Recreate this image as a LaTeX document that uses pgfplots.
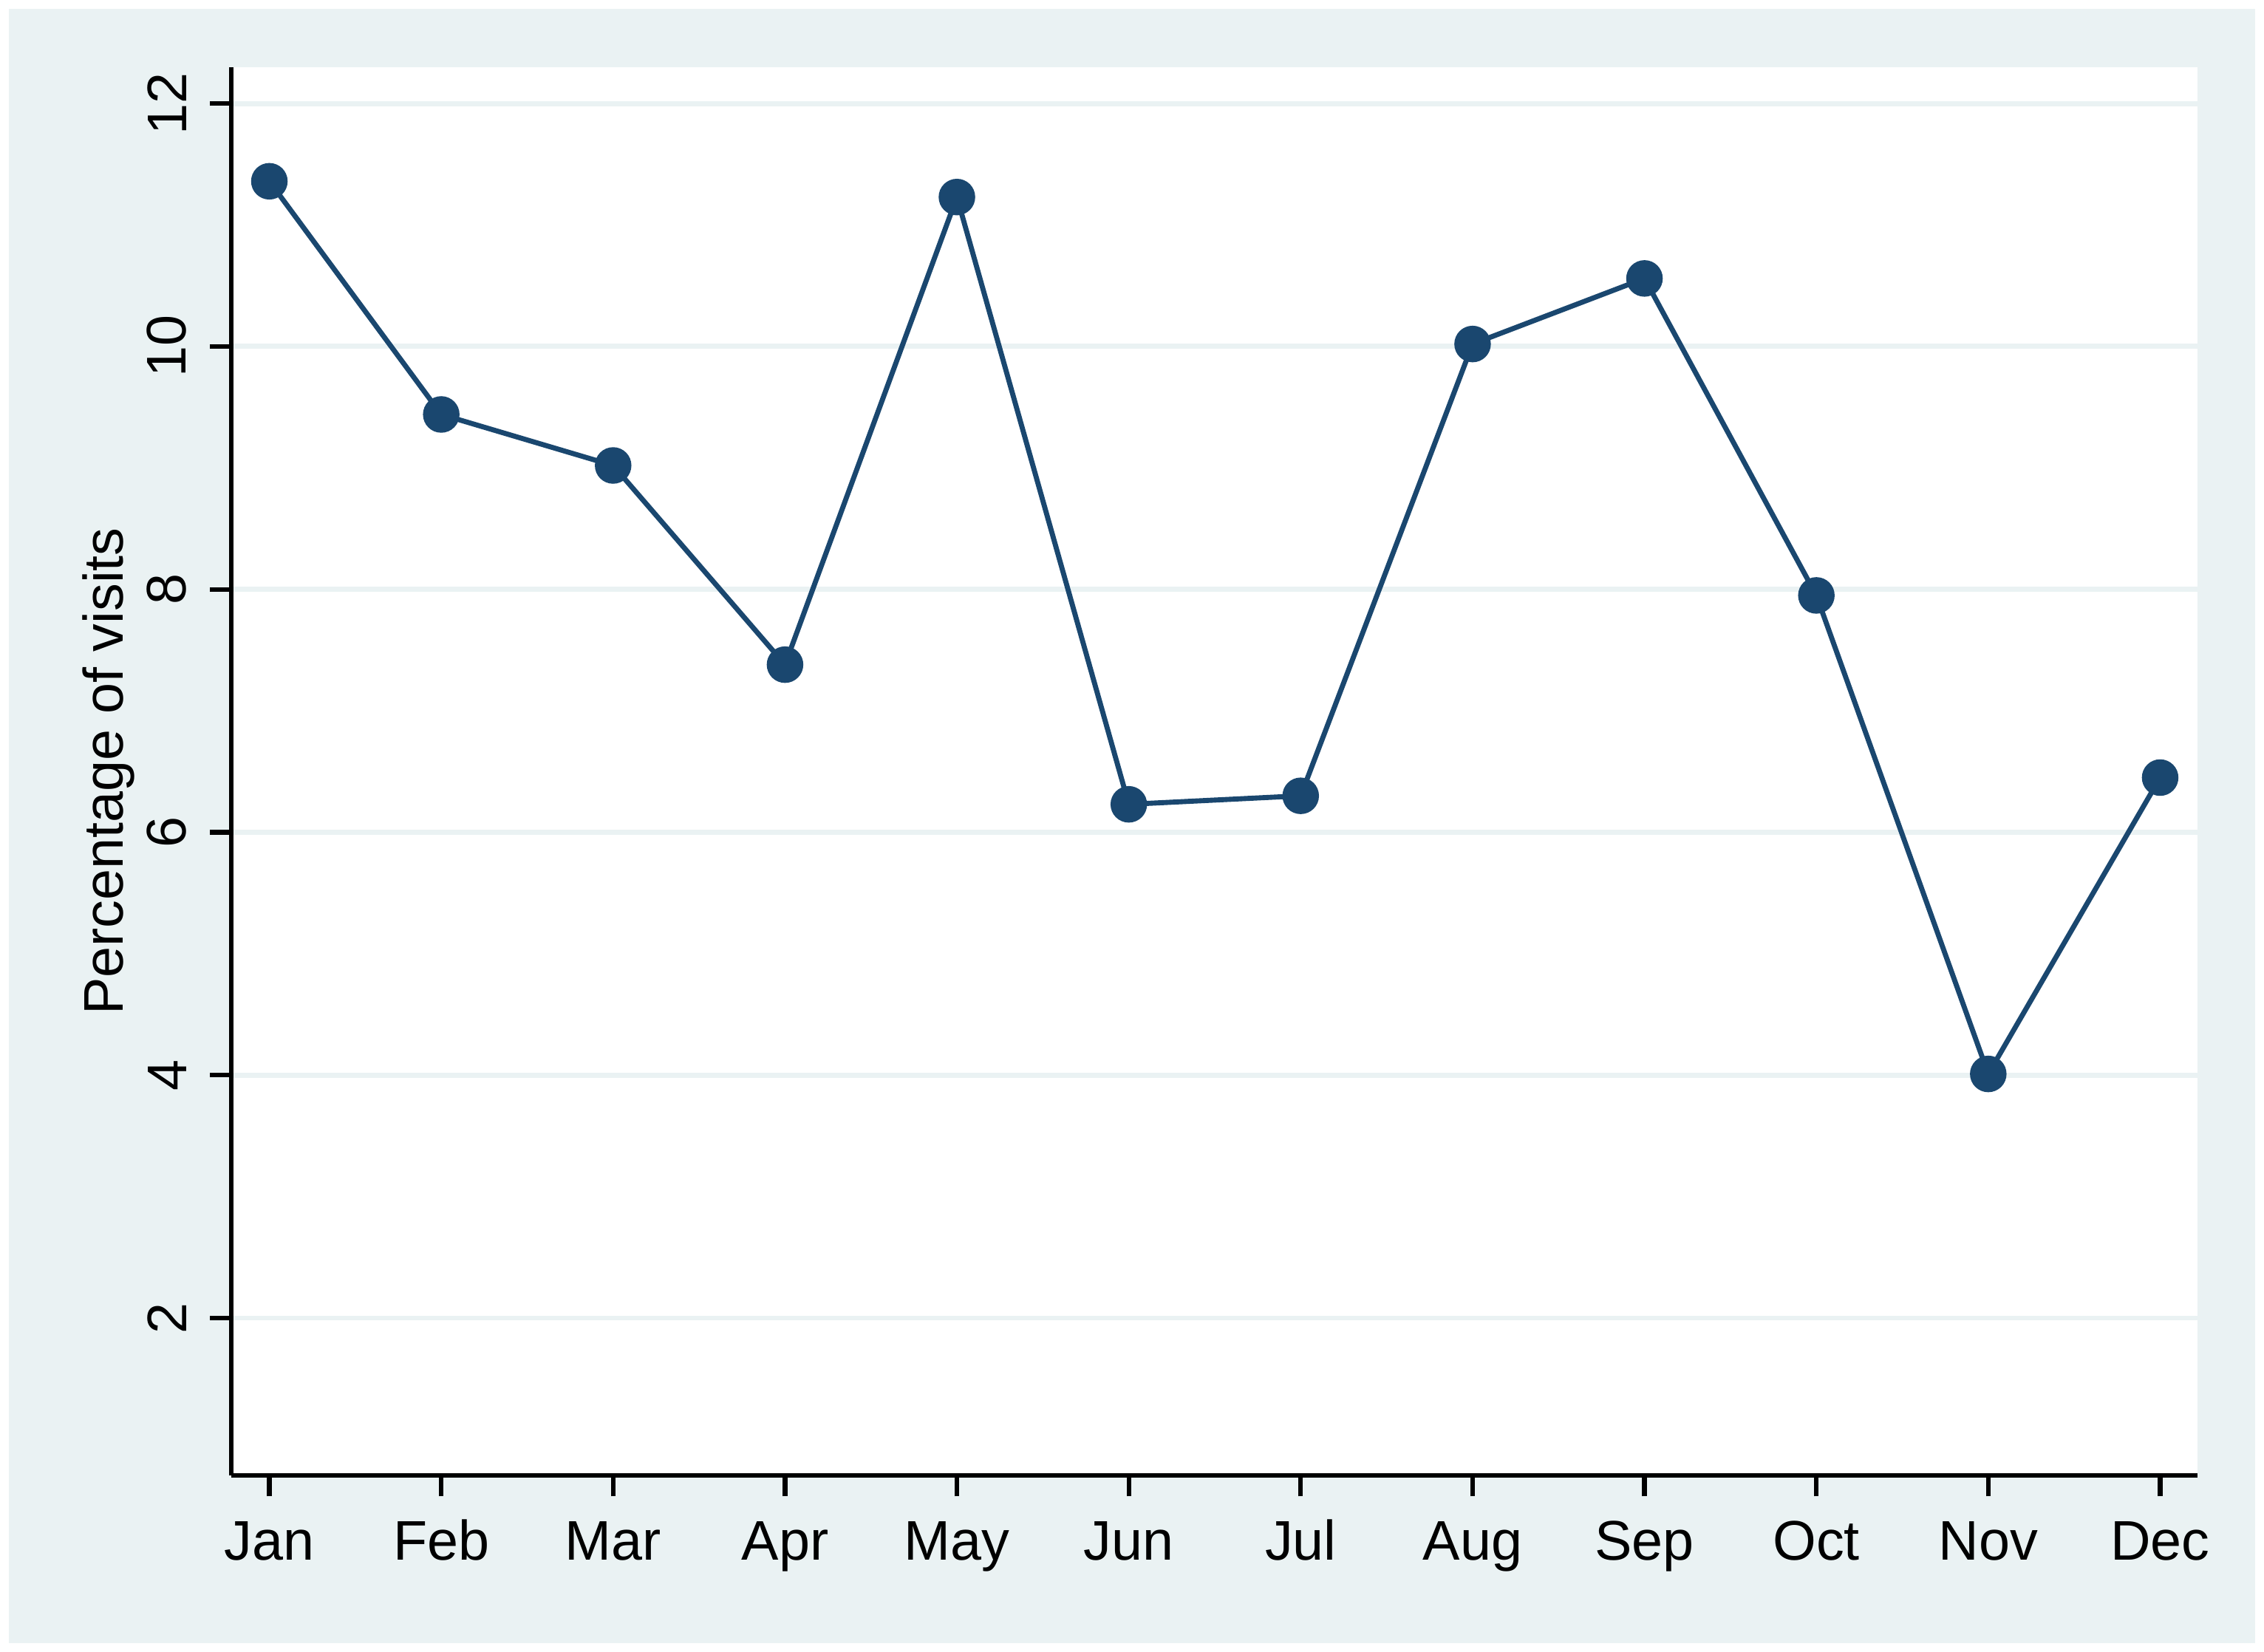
\documentclass[border=0pt]{standalone}
\usepackage{fontspec}
\setmainfont{Liberation Sans}
\usepackage{pgfplots}
\usepackage{pgfplotstable}
\pgfplotsset{compat=1.18}
\definecolor{stbg}{RGB}{234,242,243}
\definecolor{stnavy}{RGB}{26,71,111}

% monthly share of visits (%)
\pgfplotstableread{
m v
1 11.36
2 9.44
3 9.02
4 7.38
5 11.23
6 6.23
7 6.30
8 10.02
9 10.56
10 7.95
11 4.01
12 6.45
}\visits

\begin{document}
\begin{tikzpicture}
\path (0,0) rectangle (15.68,11.44);
\fill[stbg] (0.06,0.06) rectangle (15.62,11.38);
\begin{axis}[
  at={(1.60cm,1.22cm)}, anchor=south west,
  scale only axis, width=13.62cm, height=9.755cm,
  xmin=0.777, xmax=12.218, ymin=0.704, ymax=12.30,
  axis x line*=bottom, axis y line*=left,
  axis line style={line width=0.9pt, black},
  axis background/.style={fill=white},
  xtick=data,
  xticklabels={Jan,Feb,Mar,Apr,May,Jun,Jul,Aug,Sep,Oct,Nov,Dec},
  ytick={2,4,...,12},
  tick align=outside, major tick length=0.145cm,
  tick style={line width=0.9pt, black},
  ymajorgrids, grid style={stbg, line width=1pt},
  tick label style={font=\fontsize{11}{13}\selectfont},
  xticklabel style={text height=7.9pt, text depth=2.3pt, yshift=-0.04cm},
  yticklabel style={rotate=90, anchor=south, inner sep=4.5pt},
  /pgf/number format/assume math mode=true,
  ylabel={Percentage of visits},
  ylabel style={font=\fontsize{11}{13}\selectfont, at={(axis description cs:-0.0624,0.5)}, anchor=center},
]
\addplot[stnavy, line width=1pt, mark=*, mark size=3.1pt, mark options={fill=stnavy, draw=stnavy}] table[x=m, y=v] {\visits};
\end{axis}
\end{tikzpicture}
\end{document}
